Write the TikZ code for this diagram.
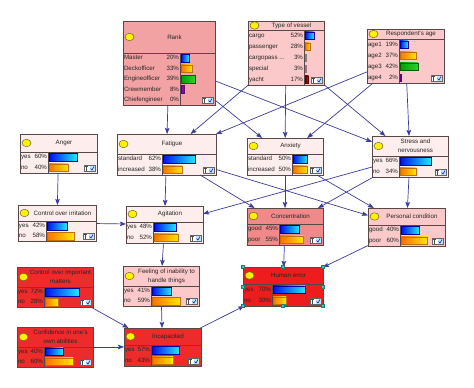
\documentclass[tikz,border=0pt]{standalone}
\usepackage{fontspec}
\setmainfont{Liberation Sans}
\usetikzlibrary{arrows.meta}
\definecolor{crank}{HTML}{F2A2A2}
\definecolor{cpink}{HTML}{FBC9C9}
\definecolor{clight}{HTML}{FDEDED}
\definecolor{cconc}{HTML}{F08A8A}
\definecolor{cred}{HTML}{EE2B2B}
\definecolor{chuman}{HTML}{EE1C1C}
\definecolor{framecol}{HTML}{5A4848}
\definecolor{arccol}{HTML}{3C3C9A}
\definecolor{ballcol}{HTML}{6A6A20}
\definecolor{bB1}{HTML}{0010F0}
\definecolor{bB2}{HTML}{20E8FF}
\definecolor{bBd}{HTML}{0000A0}
\definecolor{bO1}{HTML}{FF7000}
\definecolor{bO2}{HTML}{FFE800}
\definecolor{bOd}{HTML}{C07000}
\definecolor{bG1}{HTML}{00A000}
\definecolor{bG2}{HTML}{30D030}
\definecolor{bGd}{HTML}{006000}
\definecolor{bP}{HTML}{8010A0}
\definecolor{bPd}{HTML}{600080}
\definecolor{bGray}{HTML}{C8C8C8}
\definecolor{bPink}{HTML}{F0A0C0}
\definecolor{bBr1}{HTML}{600000}
\definecolor{bBr2}{HTML}{A02020}
\definecolor{iconblue}{HTML}{BFE6FA}
\definecolor{handlefill}{HTML}{3FBFAF}
\definecolor{handleline}{HTML}{1F7F70}

\newcommand{\bnicon}[2]{%
  \fill[white] (#1-13,#2-7.5) rectangle (#1-2,#2-1.5);
  \fill[iconblue] (#1-7.5,#2-7.5) rectangle (#1-2,#2-1.5);
  \draw[gray!80!black, line width=0.4pt] (#1-13,#2-7.5) rectangle (#1-2,#2-1.5);
  \draw[blue!60!black, line width=0.5pt] (#1-6.5,#2-4.5) -- (#1-5,#2-3) -- (#1-3,#2-6.5);
  \draw[gray!60!black, line width=0.5pt] (#1-12,#2-6.5) -- (#1-9,#2-6.5) (#1-10.5,#2-6.5) -- (#1-10.5,#2-2.5);
}
\newcommand{\bnbox}[9]{%
  \pgfmathsetmacro\bnW{#4-#2}%
  \pgfmathsetmacro\bnH{#5-#3}%
  \node[bnframe, fill=#8, minimum width=\bnW pt, minimum height=\bnH pt] (#1) at ({(#2+#4)/2},{(#3+#5)/2}) {};
  \draw[bnline] (#2,#6) -- (#4,#6) (#7,#6) -- (#7,#5);
  \filldraw[fill=yellow, draw=ballcol, line width=0.5pt] (#2+6.5,{(#3+#6)/2}) ellipse [x radius=4.5pt, y radius=3.7pt];
  \node[bntitle] at ({(#2+11+#4)/2},{(#3+#6)/2}) {#9};
  \bnicon{#4}{#5}%
}
\newcommand{\bnrow}[7]{%
  \node[bntxt, anchor=west] at (#1+0.8,#3) {#4};
  \node[bntxt, anchor=east] at (#2-0.8,#3) {#5};
  \path[#7] (#2+1,#3-3.8) rectangle (#2+1+#6,#3+3.8);
}

\begin{document}
\begin{tikzpicture}[x=1pt, y=-1pt,
  bnframe/.style={draw=framecol, line width=0.6pt, rectangle, inner sep=0pt, outer sep=0pt},
  bnline/.style={draw=framecol, line width=0.6pt},
  bntxt/.style={font=\fontsize{6.2}{7}\selectfont, inner sep=0pt, text=black!85, text height=4.6pt, text depth=1.3pt},
  bntitle/.style={font=\fontsize{6.2}{8.8}\selectfont, inner sep=0pt, text=black!85, align=center},
  arc/.style={draw=arccol, line width=0.7pt, -{Stealth[length=6pt, width=4.5pt, inset=1pt]}},
  barB/.style={left color=bB1, right color=bB2, draw=bBd, line width=0.4pt},
  barO/.style={left color=bO1, right color=bO2, draw=bOd, line width=0.4pt},
  barG/.style={left color=bG1, right color=bG2, draw=bGd, line width=0.4pt},
  barP/.style={fill=bP, draw=bPd, line width=0.4pt},
  barGray/.style={fill=bGray, draw=gray, line width=0.3pt},
  barPink/.style={fill=bPink, draw=bPink!70!black, line width=0.3pt},
  barBr/.style={left color=bBr1, right color=bBr2, draw=bBr1, line width=0.4pt},
  nob/.style={draw=none},
  handle/.style={fill=handlefill, draw=handleline, line width=0.3pt}
]
\useasboundingbox[fill=white] (0,0) rectangle (474,388);

% ---- top row
\bnbox{rank}{123}{21}{215}{105}{53}{180}{crank}{Rank}
\bnrow{123}{180}{58.2}{Master}{20\%}{8}{barB}
\bnrow{123}{180}{68.6}{Deckofficer}{33\%}{11}{barO}
\bnrow{123}{180}{79}{Engineofficer}{39\%}{14}{barG}
\bnrow{123}{180}{89.4}{Crewmember}{8\%}{3}{barP}
\bnrow{123}{180}{99.8}{Chiefengineer}{0\%}{0}{nob}

\bnbox{vessel}{248}{21}{324}{85}{30}{304}{cpink}{Type of vessel}
\bnrow{248}{304}{35.5}{cargo}{52\%}{9}{barB}
\bnrow{248}{304}{46.5}{passenger}{28\%}{5}{barO}
\bnrow{248}{304}{57.5}{cargopass ...}{3\%}{1.2}{barGray}
\bnrow{248}{304}{68.5}{special}{3\%}{1.2}{barPink}
\bnrow{248}{304}{79.5}{yacht}{17\%}{3.5}{barBr}

\bnbox{age}{367}{29}{444}{83}{39}{399}{cpink}{Respondent's age}
\bnrow{367}{399}{44.5}{age1}{19\%}{8}{barB}
\bnrow{367}{399}{55.5}{age2}{37\%}{16}{barO}
\bnrow{367}{399}{66.5}{age3}{42\%}{18}{barG}
\bnrow{367}{399}{77.5}{age4}{2\%}{0.8}{barP}

% ---- second row
\bnbox{anger}{20}{134}{97}{173}{152}{48}{clight}{Anger}
\bnrow{20}{48}{157.25}{yes}{60\%}{28}{barB}
\bnrow{20}{48}{167.75}{no}{40\%}{19}{barO}

\bnbox{fatigue}{117}{134}{216}{175}{154}{162}{clight}{Fatigue}
\bnrow{117}{162}{159.25}{standard}{62\%}{32}{barB}
\bnrow{117}{162}{169.75}{increased}{38\%}{19}{barO}

\bnbox{anxiety}{247}{138}{323}{175}{154}{292}{clight}{Anxiety}
\bnrow{247}{292}{159.25}{standard}{50\%}{14.5}{barB}
\bnrow{247}{292}{169.75}{increased}{50\%}{14.5}{barO}

\bnbox{stress}{372}{136}{448}{177}{156}{399}{clight}{Stress and\\nervousness}
\bnrow{372}{399}{161.25}{yes}{66\%}{31}{barB}
\bnrow{372}{399}{171.75}{no}{34\%}{16}{barO}

% ---- third row
\bnbox{ctrlirr}{18}{205}{96}{241}{221}{46}{clight}{Control over irritation}
\bnrow{18}{46}{226}{yes}{42\%}{20}{barB}
\bnrow{18}{46}{236}{no}{58\%}{27}{barO}

\bnbox{agit}{126}{206}{203}{243}{222}{153}{clight}{Agitation}
\bnrow{126}{153}{227.25}{yes}{48\%}{22}{barB}
\bnrow{126}{153}{237.75}{no}{52\%}{24}{barO}

\bnbox{conc}{247}{208}{323}{245}{224}{279}{cconc}{Concentration}
\bnrow{247}{279}{229.25}{good}{45\%}{19}{barB}
\bnrow{247}{279}{239.75}{poor}{55\%}{23}{barO}

\bnbox{pers}{368}{208}{445}{246}{225}{400}{cpink}{Personal condition}
\bnrow{368}{400}{230.25}{good}{40\%}{18}{barB}
\bnrow{368}{400}{240.75}{poor}{60\%}{26}{barO}

% ---- fourth row
\bnbox{ctrlimp}{17}{267}{93}{307}{287}{44}{cred}{Control over important\\matters}
\bnrow{17}{44}{292}{yes}{72\%}{34}{barB}
\bnrow{17}{44}{302}{no}{28\%}{13}{barO}

\bnbox{feel}{123}{266}{199}{306}{286}{151}{cpink}{Feeling of inability to\\handle things}
\bnrow{123}{151}{291}{yes}{41\%}{19}{barB}
\bnrow{123}{151}{301}{no}{59\%}{28}{barO}

\bnbox{human}{243}{267}{323}{306}{284}{272}{chuman}{Human error}
\bnrow{243}{272}{289.5}{yes}{70\%}{32}{barB}
\bnrow{243}{272}{300.5}{no}{30\%}{13}{barO}

% ---- fifth row
\bnbox{conf}{17}{327}{93}{367}{347}{44}{cred}{Confidence in one's\\own abilities}
\bnrow{17}{44}{351.5}{yes}{40\%}{18}{barB}
\bnrow{17}{44}{361.5}{no}{60\%}{28}{barO}

\bnbox{incap}{124}{328}{201}{366}{345}{151}{cred}{Incapacited}
\bnrow{124}{151}{350.25}{yes}{57\%}{27}{barB}
\bnrow{124}{151}{360.75}{no}{43\%}{21}{barO}

% ---- connectors
\foreach \a/\b in {rank/fatigue, rank/anxiety, rank/stress,
                   vessel/fatigue, vessel/anxiety, vessel/stress,
                   age/fatigue, age/anxiety, age/stress,
                   anger/ctrlirr, ctrlirr/agit, fatigue/agit, stress/agit,
                   fatigue/conc, anxiety/conc, stress/conc,
                   fatigue/pers, anxiety/pers, stress/pers,
                   conc/human, pers/human, incap/human,
                   agit/feel, feel/incap, ctrlimp/incap, conf/incap}
  \draw[arc] (\a) -- (\b);

% ---- selection handles around Human error
\foreach \hx/\hy in {243/267, 283/267, 323/267, 243/286.5, 323/286.5, 243/306, 283/306, 323/306}
  \path[handle] (\hx-1.6,\hy-1.6) rectangle (\hx+1.6,\hy+1.6);
\end{tikzpicture}
\end{document}
